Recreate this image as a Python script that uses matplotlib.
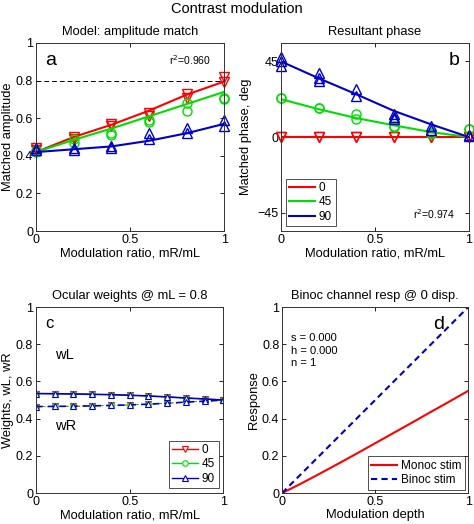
import matplotlib.pyplot as plt
from matplotlib.lines import Line2D
import numpy as np

plt.rcParams['font.family'] = ['Liberation Sans', 'DejaVu Sans']
plt.rcParams['xtick.direction'] = 'in'
plt.rcParams['ytick.direction'] = 'in'
plt.rcParams['xtick.top'] = True
plt.rcParams['ytick.right'] = True

# panel a: amplitude match
x_ab = [0, 0.2, 0.4, 0.6, 0.8, 1.0]
amp_fit_0 = [0.42, 0.50, 0.565, 0.64, 0.725, 0.795]
amp_fit_45 = [0.42, 0.485, 0.545, 0.61, 0.675, 0.74]
amp_fit_90 = [0.42, 0.435, 0.45, 0.48, 0.52, 0.57]
amp_obs_0 = [[0.44, 0.43], [0.50, 0.49], [0.57, 0.56], [0.63, 0.61], [0.73, 0.71], [0.82, 0.79]]
amp_obs_45 = [[0.42, 0.43], [0.49, 0.47], [0.52, 0.51], [0.59, 0.58], [0.68, 0.64], [0.71, 0.70]]
amp_obs_90 = [[0.44, 0.43], [0.43, 0.44], [0.44, 0.45], [0.49, 0.52], [0.52, 0.55], [0.56, 0.59]]

# panel b: resultant phase
ph_fit_0 = [0, 0, 0, 0, 0, 0]
ph_fit_45 = [22.5, 16.6, 11.3, 7.0, 2.9, 0]
ph_fit_90 = [45, 35, 25.5, 15.6, 7.5, 0]
ph_obs_0 = [[0, 0], [0, 0], [0, 0], [0, 0], [0, 0], [0, 0]]
ph_obs_45 = [[23.5, 23.0], [17.2, 17.0], [14, 10.8], [6.8, 5.9], [2.0, 2.5], [4.9, 4.5]]
ph_obs_90 = [[47.9, 45, 42], [38.2, 35.2, 33.3], [28.4, 24.5], [13.7, 11.7, 10.8], [6.3, 3.9], [1.0, 0.5]]

# panel c: ocular weights
x_c = [0, 0.1, 0.2, 0.3, 0.4, 0.5, 0.6, 0.7, 0.8, 0.9, 1.0]
wL = [0.535, 0.534, 0.533, 0.531, 0.529, 0.526, 0.522, 0.517, 0.511, 0.506, 0.500]
wR = [0.465, 0.466, 0.467, 0.469, 0.471, 0.474, 0.478, 0.483, 0.489, 0.494, 0.500]

# panel d: binocular channel response
x_d = [0, 0.1, 0.2, 0.3, 0.4, 0.5, 0.6, 0.7, 0.8, 0.9, 1.0]
monoc = [0, 0.050, 0.103, 0.157, 0.212, 0.268, 0.324, 0.380, 0.437, 0.493, 0.550]
binoc = [0, 0.1, 0.2, 0.3, 0.4, 0.5, 0.6, 0.7, 0.8, 0.9, 1.0]

labels = ['0', '45', '90']
colors = ['#ff0000', '#00dd00', '#0000cc']
markers = ['v', 'o', '^']

fig = plt.figure(figsize=(4.74, 5.24), dpi=100)
ax_a = fig.add_axes([0.076, 0.559, 0.397, 0.359])
ax_b = fig.add_axes([0.593, 0.559, 0.396, 0.359])
ax_c = fig.add_axes([0.076, 0.059, 0.395, 0.355])
ax_d = fig.add_axes([0.595, 0.059, 0.393, 0.355])

fig.text(0.5, 0.997, 'Contrast modulation', ha='center', va='top', fontsize=10.5)

def scatter_groups(ax, xs, groups, c, m):
    for xv, ys in zip(xs, groups):
        ax.plot([xv] * len(ys), ys, linestyle='none', marker=m, ms=6.5,
                mfc='none', mec=c, mew=1.0, clip_on=False)

leg_kw = dict(fontsize=8.5, frameon=True, fancybox=False, edgecolor='k',
              handlelength=2.2, handletextpad=0.3, borderpad=0.3, labelspacing=0.2)

# a
fits = [amp_fit_0, amp_fit_45, amp_fit_90]
obs = [amp_obs_0, amp_obs_45, amp_obs_90]
for f, o, c, m in zip(fits, obs, colors, markers):
    ax_a.plot(x_ab, f, color=c, lw=1.5)
    scatter_groups(ax_a, x_ab, o, c, m)
ax_a.axhline(0.8, color='k', ls='--', lw=0.7, dashes=(5, 3))
ax_a.set_xlim(0, 1)
ax_a.set_ylim(0, 1)
ax_a.set_xticks([0, 0.5, 1])
ax_a.set_xticklabels(['0', '0.5', '1'])
ax_a.set_yticks([0, 0.2, 0.4, 0.6, 0.8, 1])
ax_a.set_yticklabels(['0', '0.2', '0.4', '0.6', '0.8', '1'])
ax_a.set_title('Model: amplitude match', fontsize=9.3, pad=6)
ax_a.set_xlabel('Modulation ratio, mR/mL', fontsize=9.3, labelpad=1)
ax_a.set_ylabel('Matched amplitude', fontsize=9.3, labelpad=1)
ax_a.text(0.05, 0.95, 'a', transform=ax_a.transAxes, fontsize=14, va='top')
ax_a.text(0.93, 0.91, 'r$^2$=0.960', transform=ax_a.transAxes, fontsize=7.5, ha='right', va='center')

# b
fits = [ph_fit_0, ph_fit_45, ph_fit_90]
obs = [ph_obs_0, ph_obs_45, ph_obs_90]
for f, o, c, m, lab in zip(fits, obs, colors, markers, labels):
    ax_b.plot(x_ab, f, color=c, lw=1.5, label=lab)
    scatter_groups(ax_b, x_ab, o, c, m)
ax_b.set_xlim(0, 1)
ax_b.set_ylim(-56, 56)
ax_b.set_xticks([0, 0.5, 1])
ax_b.set_xticklabels(['0', '0.5', '1'])
ax_b.set_yticks([-45, 0, 45])
ax_b.set_yticklabels(['\u221245', '0', '45'])
ax_b.set_title('Resultant phase', fontsize=9.3, pad=6)
ax_b.set_xlabel('Modulation ratio, mR/mL', fontsize=9.3, labelpad=1)
ax_b.set_ylabel('Matched phase, deg', fontsize=9.3, labelpad=4)
ax_b.text(0.95, 0.95, 'b', transform=ax_b.transAxes, fontsize=14, va='top', ha='right')
ax_b.text(0.93, 0.09, 'r$^2$=0.974', transform=ax_b.transAxes, fontsize=7.5, ha='right', va='center')
ax_b.legend(loc='lower left', borderaxespad=0.4, **leg_kw).get_frame().set_linewidth(0.6)

# c
handles = []
for c, m, lab in zip(colors, markers, labels):
    lw = 1.2 if c == '#0000cc' else 0.6
    ax_c.plot(x_c, wL, color=c, lw=lw, marker=m, ms=4, mfc='white', mec=c, mew=0.8)
    ax_c.plot(x_c, wR, color=c, lw=lw, ls='--', dashes=(4, 3), marker=m, ms=4, mfc='white', mec=c, mew=0.8)
    handles.append(Line2D([], [], color=c, lw=1.0, marker=m, ms=4, mfc='white', mec=c, mew=0.8, label=lab))
ax_c.set_xlim(0, 1)
ax_c.set_ylim(0, 1)
ax_c.set_xticks([0, 0.5, 1])
ax_c.set_xticklabels(['0', '0.5', '1'])
ax_c.set_yticks([0, 0.2, 0.4, 0.6, 0.8, 1])
ax_c.set_yticklabels(['0', '0.2', '0.4', '0.6', '0.8', '1'])
ax_c.set_title('Ocular weights @ mL = 0.8', fontsize=9.3, pad=6)
ax_c.set_xlabel('Modulation ratio, mR/mL', fontsize=9.3, labelpad=1)
ax_c.set_ylabel('Weights, wL, wR', fontsize=9.3, labelpad=1)
ax_c.text(0.05, 0.95, 'c', transform=ax_c.transAxes, fontsize=12, va='top')
ax_c.text(0.1, 0.74, 'wL', transform=ax_c.transAxes, fontsize=10.5, va='center')
ax_c.text(0.1, 0.36, 'wR', transform=ax_c.transAxes, fontsize=10.5, va='center')
ax_c.legend(handles=handles, loc='lower right', borderaxespad=0.4, numpoints=1,
            **leg_kw).get_frame().set_linewidth(0.6)

# d
ax_d.plot(x_d, monoc, color='#ff0000', lw=1.5, label='Monoc stim')
ax_d.plot(x_d, binoc, color='#0000cc', lw=1.5, ls='--', dashes=(3, 2), label='Binoc stim')
ax_d.set_xlim(0, 1)
ax_d.set_ylim(0, 1)
ax_d.set_xticks([0, 0.5, 1])
ax_d.set_xticklabels(['0', '0.5', '1'])
ax_d.set_yticks([0, 0.2, 0.4, 0.6, 0.8, 1])
ax_d.set_yticklabels(['0', '0.2', '0.4', '0.6', '0.8', '1'])
ax_d.set_title('Binoc channel resp @ 0 disp.', fontsize=9.3, pad=6)
ax_d.set_xlabel('Modulation depth', fontsize=9.3, labelpad=1)
ax_d.set_ylabel('Response', fontsize=9.3, labelpad=1)
ax_d.text(0.84, 0.95, 'd', transform=ax_d.transAxes, fontsize=14, va='top', ha='center')
ax_d.text(0.05, 0.86, 's = 0.000\nh = 0.000\nn = 1', transform=ax_d.transAxes,
          fontsize=8, va='top', linespacing=1.3)
ax_d.legend(loc='lower right', borderaxespad=0.3, **leg_kw).get_frame().set_linewidth(0.6)

for ax in (ax_a, ax_b, ax_c, ax_d):
    ax.tick_params(labelsize=9, length=3, width=0.6, pad=2)
    for sp in ax.spines.values():
        sp.set_linewidth(0.7)
        sp.set_color('#333333')

fig.savefig('out.png', dpi=100)
